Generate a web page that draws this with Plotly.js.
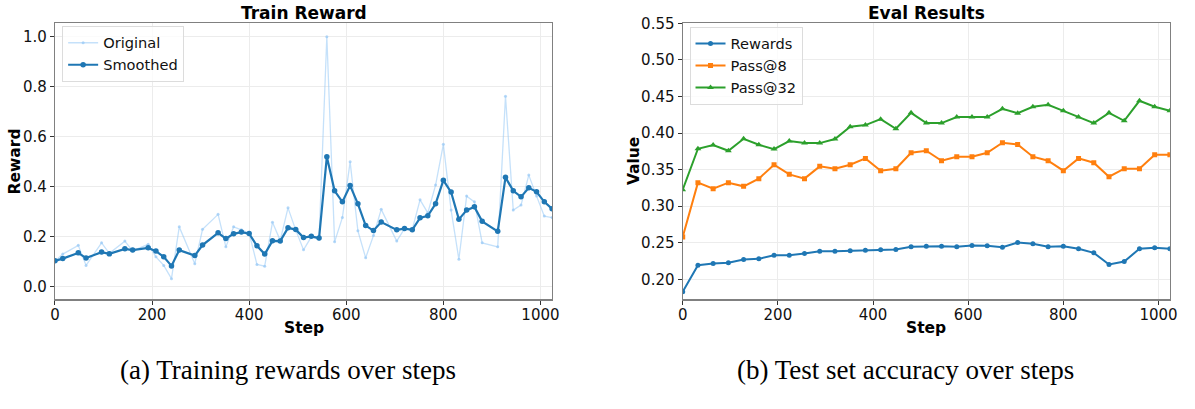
<!DOCTYPE html>
<html>
<head>
<meta charset="utf-8">
<script src="https://cdn.plot.ly/plotly-3.0.1.min.js"></script>
<style>
html,body{margin:0;padding:0;background:#fff;}
#chart{width:1195px;height:409px;}
</style>
</head>
<body>
<div id="chart"></div>
<script>
// ---------- Data ----------
const trainSteps = [0,16,48,64,96,112,144,160,192,208,224,240,256,288,304,336,352,368,384,400,416,432,448,464,480,496,512,528,544,560,576,592,608,624,640,656,672,704,720,736,752,768,784,800,816,832,848,864,880,912,928,944,960,976,992,1008,1024];
const rewardOriginal = [0.103,0.131,0.166,0.086,0.176,0.134,0.183,0.144,0.170,0.120,
  0.086,0.033,0.240,0.093,0.230,0.290,0.160,0.240,0.228,0.215,
  0.090,0.083,0.258,0.186,0.316,0.227,0.148,0.200,0.190,1.000,
  0.180,0.277,0.500,0.224,0.116,0.205,0.310,0.183,0.233,0.230,
  0.348,0.296,0.407,0.570,0.307,0.110,0.363,0.340,0.176,0.160,
  0.762,0.307,0.327,0.447,0.363,0.283,0.277];
const rewardSmoothed = [0.104,0.113,0.136,0.115,0.139,0.132,0.152,0.147,0.156,0.143,
  0.120,0.084,0.147,0.125,0.167,0.216,0.193,0.212,0.219,0.213,
  0.164,0.131,0.184,0.183,0.236,0.229,0.197,0.202,0.195,0.520,
  0.384,0.340,0.405,0.332,0.245,0.225,0.259,0.228,0.233,0.228,
  0.276,0.284,0.332,0.426,0.379,0.270,0.307,0.320,0.262,0.222,
  0.438,0.384,0.360,0.396,0.380,0.340,0.312];

const evalSteps = [0,32,64,96,128,160,192,224,256,288,320,352,384,416,448,480,512,544,576,608,640,672,704,736,768,800,832,864,896,928,960,992,1024];
const evalRewards = [0.1831,0.2195,0.2218,0.2227,0.2273,0.2281,0.2331,0.2331,0.2354,0.2386,0.2386,0.2390,0.2400,0.2404,0.2409,0.2445,0.2454,
  0.2454,0.2445,0.2463,0.2459,0.2441,0.2504,0.2486,0.2445,0.2454,0.2418,0.2363,0.2204,0.2245,0.2418,0.2431,0.2418];
const evalPass8 = [0.2581,0.3322,0.3240,0.3322,0.3272,0.3377,0.3568,0.3436,0.3377,0.3545,0.3513,0.3568,0.3654,0.3486,0.3513,0.3731,0.3758,
  0.3622,0.3677,0.3677,0.3731,0.3868,0.3845,0.3677,0.3622,0.3486,0.3654,0.3595,0.3404,0.3513,0.3513,0.3704,0.3704];
const evalPass32 = [0.3227,0.3786,0.3836,0.3758,0.3922,0.3840,0.3781,0.3890,0.3863,0.3863,0.3918,0.4086,0.4109,0.4190,0.4059,0.4277,0.4136,
  0.4136,0.4218,0.4218,0.4218,0.4331,0.4272,0.4359,0.4386,0.4304,0.4218,0.4136,0.4277,0.4168,0.4441,0.4359,0.4304];

const leftTicks = [0,0.2,0.4,0.6,0.8,1.0];
const rightTicks = [0.20,0.25,0.30,0.35,0.40,0.45,0.50,0.55];
const stepTicks = [0,200,400,600,800,1000];

// ---------- Styling ----------
const FONT = 'DejaVu Sans, sans-serif';
const SERIF = 'Liberation Serif, Times New Roman, serif';
const C0 = '#1f77b4', C1 = '#ff7f0e', C2 = '#2ca02c';

const traces = [
  {x: trainSteps, y: rewardOriginal, name: 'Original', type: 'scatter', mode: 'lines+markers',
   line: {color: 'rgba(150,200,245,0.55)', width: 1.3}, marker: {size: 3, color: 'rgba(150,200,245,0.7)'},
   xaxis: 'x', yaxis: 'y', legend: 'legend'},
  {x: trainSteps, y: rewardSmoothed, name: 'Smoothed', type: 'scatter', mode: 'lines+markers',
   line: {color: C0, width: 2.2}, marker: {size: 5.5, color: C0},
   xaxis: 'x', yaxis: 'y', legend: 'legend'},
  {x: evalSteps, y: evalRewards, name: 'Rewards', type: 'scatter', mode: 'lines+markers',
   line: {color: C0, width: 2}, marker: {size: 5, color: C0, symbol: 'circle'},
   xaxis: 'x2', yaxis: 'y2', legend: 'legend2'},
  {x: evalSteps, y: evalPass8, name: 'Pass@8', type: 'scatter', mode: 'lines+markers',
   line: {color: C1, width: 2}, marker: {size: 5, color: C1, symbol: 'square'},
   xaxis: 'x2', yaxis: 'y2', legend: 'legend2'},
  {x: evalSteps, y: evalPass32, name: 'Pass@32', type: 'scatter', mode: 'lines+markers',
   line: {color: C2, width: 2}, marker: {size: 6, color: C2, symbol: 'triangle-up'},
   xaxis: 'x2', yaxis: 'y2', legend: 'legend2'}
];

function axisCommon(extra) {
  return Object.assign({
    showline: true, mirror: true, linecolor: '#808080', linewidth: 1.2,
    showgrid: true, gridcolor: '#ececec', gridwidth: 1,
    zeroline: false,
    ticks: 'outside', ticklen: 4, tickwidth: 1, tickcolor: '#333',
    tickfont: {family: FONT, size: 15, color: '#111'}
  }, extra);
}
const axTitleFont = {family: FONT, size: 15.5, color: '#000', weight: 'bold'};
const legendFont = {family: FONT, size: 14.6, color: '#111'};
const titleFont = {family: FONT, size: 17, color: '#000', weight: 'bold'};
const capFont = {family: SERIF, size: 27, color: '#000'};

function label(text, x, y, font, angle) {
  return {text: text, xref: 'paper', yref: 'paper', x: x, y: y, xanchor: 'center', yanchor: 'middle',
    showarrow: false, font: font, textangle: angle || 0};
}

const yDom = [0.268, 0.943];
const layout = {
  width: 1195, height: 409,
  margin: {l: 0, r: 0, t: 0, b: 0},
  paper_bgcolor: '#fff', plot_bgcolor: '#fff',
  showlegend: true,
  xaxis: axisCommon({domain: [0.046, 0.462], range: [0, 1024], tickvals: stepTicks, ticklabelstandoff: -3, anchor: 'y'}),
  yaxis: axisCommon({domain: yDom, range: [-0.05, 1.054], tickvals: leftTicks, tickformat: '.1f', anchor: 'x'}),
  xaxis2: axisCommon({domain: [0.5713, 0.979], range: [0, 1024], tickvals: stepTicks, ticklabelstandoff: -3, anchor: 'y2'}),
  yaxis2: axisCommon({domain: yDom, range: [0.1727, 0.55], tickvals: rightTicks, tickformat: '.2f', anchor: 'x2'}),
  legend: {x: 0.052, y: 0.937, xanchor: 'left', yanchor: 'top',
    bgcolor: 'rgba(255,255,255,0.8)', bordercolor: '#dcdcdc', borderwidth: 1,
    font: legendFont, itemwidth: 30, tracegroupgap: 0},
  legend2: {x: 0.577, y: 0.935, xanchor: 'left', yanchor: 'top',
    bgcolor: 'rgba(255,255,255,0.8)', bordercolor: '#dcdcdc', borderwidth: 1,
    font: legendFont, itemwidth: 30, tracegroupgap: 0},
  annotations: [
    label('Train Reward', 0.254, 0.967, titleFont),
    label('Eval Results', 0.775, 0.967, titleFont),
    label('Step', 0.254, 0.197, axTitleFont),
    label('Step', 0.775, 0.197, axTitleFont),
    label('Reward', 0.0128, 0.606, axTitleFont, -90),
    label('Value', 0.5305, 0.606, axTitleFont, -90),
    label('(a) Training rewards over steps', 0.241, 0.095, capFont),
    label('(b) Test set accuracy over steps', 0.758, 0.095, capFont)
  ]
};

Plotly.newPlot('chart', traces, layout, {displayModeBar: false, staticPlot: true});
</script>
</body>
</html>
